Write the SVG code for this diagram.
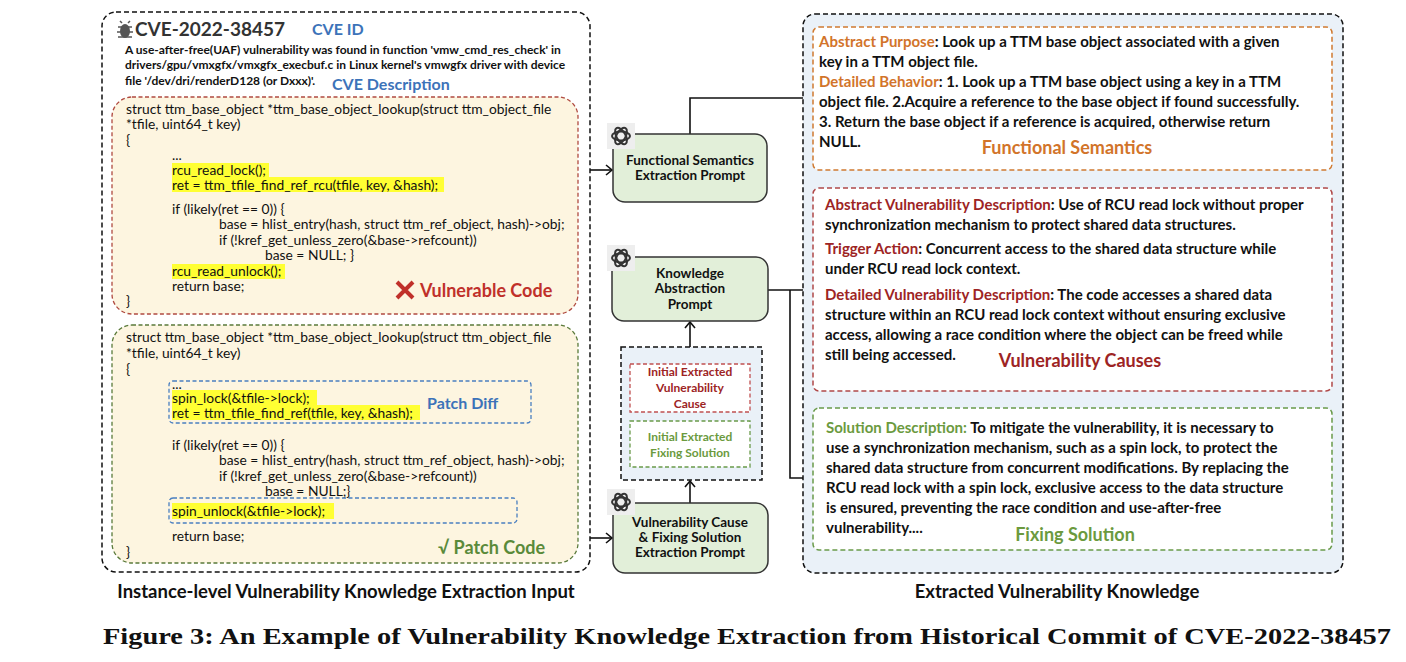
<svg xmlns="http://www.w3.org/2000/svg" width="1406" height="662" viewBox="0 0 1406 662">
<style>
text{font-family:Lato,"Open Sans","Liberation Sans",sans-serif}
.b{font-weight:bold}
.code{font-size:13.8px;fill:#111}
.desc{font-size:12px;font-weight:bold;fill:#111}
.rt{font-size:15px;font-weight:bold;fill:#111}
.blue{fill:#3c73b9;font-weight:bold}
.org{fill:#d2742a}
.red{fill:#9d2424}
.grn{fill:#6b9a3e}
.node rect.n{fill:#e2efd9;stroke:#333;stroke-width:1.5}
.nt{font-size:13.5px;font-weight:bold;fill:#111;text-anchor:middle}
.hl{fill:#ffff33}
.con{stroke:#111;stroke-width:1.6;fill:none}
.ah{fill:none;stroke:#111;stroke-width:1.6}
.cap{font-size:18.5px;font-weight:bold;fill:#111;text-anchor:middle}
</style>
<defs>
<g id="gpt">
<rect x="0" y="0" width="28" height="26" fill="#eeeeee"/>
<g fill="none" stroke="#333" stroke-width="2" transform="translate(14,13)">
<ellipse rx="9" ry="4.5"/><ellipse rx="9" ry="4.5" transform="rotate(60)"/><ellipse rx="9" ry="4.5" transform="rotate(120)"/>
</g>
</g>
</defs>
<rect width="1406" height="662" fill="#fff"/>

<g id="input-panel">
<rect x="102" y="12" width="488" height="560" rx="14" fill="#fff" stroke="#111" stroke-width="1.5" stroke-dasharray="5,3"/>
<g transform="translate(117,21)" fill="#555"><ellipse cx="8" cy="10" rx="5" ry="7"/><path d="M1,6 L15,6 M0,11 L16,11 M1,16 L15,16 M5,2 L3,0 M11,2 L13,0" stroke="#555" stroke-width="1.5"/></g>
<text x="135" y="36" class="b" font-size="19" fill="#333">CVE-2022-38457</text>
<text x="312" y="35" class="blue" font-size="16">CVE ID</text>
<text class="desc"><tspan x="125" y="54">A use-after-free(UAF) vulnerability was found in function 'vmw_cmd_res_check' in</tspan><tspan x="125" y="69">drivers/gpu/vmxgfx/vmxgfx_execbuf.c in Linux kernel's vmwgfx driver with device</tspan><tspan x="125" y="85">file '/dev/dri/renderD128 (or Dxxx)'.</tspan></text>
<text x="332" y="90" class="blue" font-size="16">CVE Description</text>
</g>

<g id="vulnerable-code">
<rect x="112" y="97" width="466" height="217" rx="20" fill="#fdf5e0" stroke="#b04a40" stroke-width="1.3" stroke-dasharray="4,2.5"/>
<rect class="hl" x="172" y="163" width="97" height="15"/>
<rect class="hl" x="172" y="177" width="272" height="15"/>
<rect class="hl" x="172" y="264" width="113" height="15"/>
<text class="code"><tspan x="126" y="114">struct ttm_base_object *ttm_base_object_lookup(struct ttm_object_file</tspan><tspan x="126" y="129">*tfile, uint64_t key)</tspan><tspan x="126" y="145">{</tspan><tspan x="172" y="160">...</tspan><tspan x="172" y="175">rcu_read_lock();</tspan><tspan x="172" y="190">ret = ttm_tfile_find_ref_rcu(tfile, key, &amp;hash);</tspan><tspan x="172" y="214">if (likely(ret == 0)) {</tspan><tspan x="219" y="229">base = hlist_entry(hash, struct ttm_ref_object, hash)-&gt;obj;</tspan><tspan x="219" y="245">if (!kref_get_unless_zero(&amp;base-&gt;refcount))</tspan><tspan x="265" y="260">base = NULL; }</tspan><tspan x="172" y="276">rcu_read_unlock();</tspan><tspan x="172" y="291">return base;</tspan><tspan x="126" y="306">}</tspan></text>
<path d="M397,282 L413,298 M413,282 L397,298" stroke="#c0302a" stroke-width="4"/>
<text x="420" y="297" class="b" font-size="18" fill="#c0302a">Vulnerable Code</text>
</g>

<g id="patch-code">
<rect x="112" y="325" width="466" height="238" rx="20" fill="#fdf5e0" stroke="#5a7a3a" stroke-width="1.3" stroke-dasharray="4,2.5"/>
<rect class="hl" x="172" y="390" width="145" height="15"/>
<rect class="hl" x="172" y="405" width="248" height="15"/>
<rect class="hl" x="172" y="503" width="162" height="16"/>
<rect x="169" y="381" width="362" height="42" rx="4" fill="none" stroke="#4a7fc0" stroke-width="1.3" stroke-dasharray="4,2.5"/>
<rect x="169" y="498" width="348" height="25" rx="4" fill="none" stroke="#4a7fc0" stroke-width="1.3" stroke-dasharray="4,2.5"/>
<text class="code"><tspan x="126" y="342">struct ttm_base_object *ttm_base_object_lookup(struct ttm_object_file</tspan><tspan x="126" y="358">*tfile, uint64_t key)</tspan><tspan x="126" y="374">{</tspan><tspan x="172" y="389">...</tspan><tspan x="172" y="403">spin_lock(&amp;tfile-&gt;lock);</tspan><tspan x="172" y="418">ret = ttm_tfile_find_ref(tfile, key, &amp;hash);</tspan><tspan x="172" y="450">if (likely(ret == 0)) {</tspan><tspan x="219" y="465">base = hlist_entry(hash, struct ttm_ref_object, hash)-&gt;obj;</tspan><tspan x="219" y="481">if (!kref_get_unless_zero(&amp;base-&gt;refcount))</tspan><tspan x="265" y="496">base = NULL;}</tspan><tspan x="172" y="516">spin_unlock(&amp;tfile-&gt;lock);</tspan><tspan x="172" y="541">return base;</tspan><tspan x="126" y="557">}</tspan></text>
<text x="427" y="409" class="blue" font-size="16">Patch Diff</text>
<text x="438" y="554" class="b" font-size="18" fill="#5a8a3a">√  Patch Code</text>
</g>

<text x="346" y="598" class="cap">Instance-level Vulnerability Knowledge Extraction Input</text>

<g id="connectors">
<path class="con" d="M590,170 L612,170"/><path class="ah" d="M606,165 L612,170 L606,175"/>
<path class="con" d="M590,538 L612,538"/><path class="ah" d="M606,533 L612,538 L606,543"/>
<path class="con" d="M690,134 L690,98 L812,98"/><path class="ah" d="M806,93 L812,98 L806,103"/>
<path class="con" d="M768,290 L812,290"/><path class="ah" d="M806,285 L812,290 L806,295"/>
<path class="con" d="M790,290 L790,478 L812,478"/><path class="ah" d="M806,473 L812,478 L806,483"/>
<path class="con" d="M690,503 L690,481"/><path class="ah" d="M685,487 L690,481 L695,487"/>
<path class="con" d="M690,347 L690,322"/><path class="ah" d="M685,328 L690,322 L695,328"/>
</g>

<g id="functional-semantics-prompt" class="node">
<rect class="n" x="613" y="134" width="154" height="68" rx="12"/>
<use href="#gpt" x="607" y="123"/>
<text class="nt"><tspan x="690" y="165">Functional Semantics</tspan><tspan x="690" y="180">Extraction Prompt</tspan></text>
</g>
<g id="knowledge-abstraction-prompt" class="node">
<rect class="n" x="612" y="257" width="156" height="64" rx="12"/>
<use href="#gpt" x="607" y="245"/>
<text class="nt"><tspan x="690" y="278">Knowledge</tspan><tspan x="690" y="293">Abstraction</tspan><tspan x="690" y="309">Prompt</tspan></text>
</g>
<g id="initial-extracted">
<rect x="621" y="347" width="141" height="133" fill="#eaf1f8" stroke="#111" stroke-width="1.5" stroke-dasharray="5,3"/>
<rect x="630" y="364" width="120" height="48" fill="#fff" stroke="#c05050" stroke-width="1.3" stroke-dasharray="4,2.5"/>
<text font-size="12" class="b red" text-anchor="middle"><tspan x="690" y="376">Initial Extracted</tspan><tspan x="690" y="392">Vulnerability</tspan><tspan x="690" y="408">Cause</tspan></text>
<rect x="630" y="421" width="120" height="46" fill="#fff" stroke="#6a9a4a" stroke-width="1.3" stroke-dasharray="4,2.5"/>
<text font-size="12" class="b grn" text-anchor="middle"><tspan x="690" y="441">Initial Extracted</tspan><tspan x="690" y="457">Fixing Solution</tspan></text>
</g>
<g id="cause-fix-prompt" class="node">
<rect class="n" x="613" y="503" width="155" height="70" rx="12"/>
<use href="#gpt" x="607" y="489"/>
<text class="nt"><tspan x="690" y="527">Vulnerability Cause</tspan><tspan x="690" y="542">&amp; Fixing Solution</tspan><tspan x="690" y="557">Extraction Prompt</tspan></text>
</g>

<g id="knowledge-panel">
<rect x="803" y="14" width="540" height="559" rx="12" fill="#eaf1f8" stroke="#111" stroke-width="1.5" stroke-dasharray="5,3"/>
</g>
<g id="functional-semantics">
<rect x="813" y="27" width="519" height="143" rx="6" fill="#fff" stroke="#d07a30" stroke-width="1.5" stroke-dasharray="5,3"/>
<text class="rt"><tspan x="819" y="47"><tspan class="org">Abstract Purpose</tspan>: Look up a TTM base object associated with a given</tspan><tspan x="819" y="67">key in a TTM object file.</tspan><tspan x="819" y="87"><tspan class="org">Detailed Behavior</tspan>: 1. Look up a TTM base object using a key in a TTM</tspan><tspan x="819" y="107">object file. 2.Acquire a reference to the base object if found successfully.</tspan><tspan x="819" y="127">3. Return the base object if a reference is acquired, otherwise return</tspan><tspan x="819" y="147">NULL.</tspan></text>
<text x="1067" y="154" text-anchor="middle" font-size="18" class="b org">Functional Semantics</text>
</g>
<g id="vulnerability-causes">
<rect x="813" y="188" width="519" height="203" rx="6" fill="#fff" stroke="#b04848" stroke-width="1.5" stroke-dasharray="5,3"/>
<text class="rt"><tspan x="825" y="210"><tspan class="red">Abstract Vulnerability Description</tspan>: Use of RCU read lock without proper</tspan><tspan x="825" y="230">synchronization mechanism to protect shared data structures.</tspan><tspan x="825" y="254"><tspan class="red">Trigger Action</tspan>: Concurrent access to the shared data structure while</tspan><tspan x="825" y="274">under RCU read lock context.</tspan><tspan x="825" y="300"><tspan class="red">Detailed Vulnerability Description</tspan>: The code accesses a shared data</tspan><tspan x="825" y="320">structure within an RCU read lock context without ensuring exclusive</tspan><tspan x="825" y="340">access, allowing a race condition where the object can be freed while</tspan><tspan x="825" y="360">still being accessed.</tspan></text>
<text x="1080" y="367" text-anchor="middle" font-size="18" class="b red">Vulnerability Causes</text>
</g>
<g id="fixing-solution">
<rect x="813" y="408" width="519" height="142" rx="6" fill="#fff" stroke="#6a9a4a" stroke-width="1.5" stroke-dasharray="5,3"/>
<text class="rt"><tspan x="826" y="433"><tspan class="grn">Solution Description:</tspan> To mitigate the vulnerability, it is necessary to</tspan><tspan x="826" y="453">use a synchronization mechanism, such as a spin lock, to protect the</tspan><tspan x="826" y="473">shared data structure from concurrent modifications. By replacing the</tspan><tspan x="826" y="493">RCU read lock with a spin lock, exclusive access to the data structure</tspan><tspan x="826" y="513">is ensured, preventing the race condition and use-after-free</tspan><tspan x="826" y="533">vulnerability....</tspan></text>
<text x="1075" y="541" text-anchor="middle" font-size="18" class="b grn">Fixing Solution</text>
</g>

<text x="1057" y="598" class="cap">Extracted Vulnerability Knowledge</text>
<text x="103" y="644" font-weight="bold" font-size="23" fill="#111" textLength="1288" lengthAdjust="spacingAndGlyphs" style="font-family:'Liberation Serif',serif">Figure 3: An Example of Vulnerability Knowledge Extraction from Historical Commit of CVE-2022-38457</text>
</svg>
